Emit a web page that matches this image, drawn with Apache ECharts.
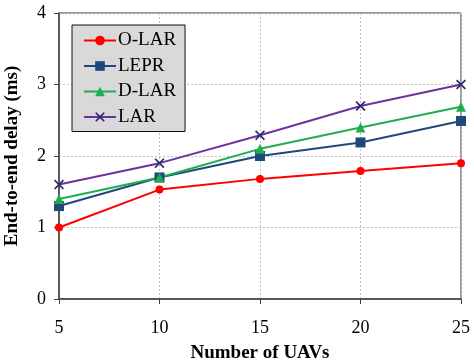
<!DOCTYPE html>
<html><head><meta charset="utf-8">
<script src="https://cdn.jsdelivr.net/npm/echarts@6/dist/echarts.min.js"></script>
<style>html,body{margin:0;padding:0;background:#fff}#c{width:474px;height:362px}</style>
</head><body><div id="c"></div>
<script>
const uavs = [5, 10, 15, 20, 25];
const oLar = [1.0, 1.53, 1.68, 1.79, 1.90];
const lepr = [1.3, 1.7, 2.0, 2.19, 2.49];
const dLar = [1.4, 1.7, 2.1, 2.4, 2.69];
const lar  = [1.6, 1.9, 2.29, 2.7, 3.0];
const seriesNames = ['O-LAR', 'LEPR', 'D-LAR', 'LAR'];
const serif = '"Liberation Serif", "DejaVu Serif", serif';
const xPath = 'path://M0,1.2L1.2,0L5,3.8L8.8,0L10,1.2L6.2,5L10,8.8L8.8,10L5,6.2L1.2,10L0,8.8L3.8,5Z';

function pairs(arr){ return uavs.map((u,i)=>[u, arr[i]]); }

const chart = echarts.init(document.getElementById('c'), null, {renderer:'canvas'});
const mk = (name, data, color, symbol, size, markerColor) => ({
  name, type:'line', data: pairs(data), symbol, symbolSize: size,
  lineStyle:{color, width:2}, itemStyle:{color: markerColor || color},
  emphasis:{disabled:true}, animation:false
});
chart.setOption({
  animation:false,
  grid:{left:59, right:13, top:13, bottom:63, show:true, borderColor:'#333', borderWidth:1,
        containLabel:false, outerBoundsMode:'none'},
  legend:{
    orient:'vertical', left:72, top:25,
    backgroundColor:'#d9d9d9', borderColor:'#111', borderWidth:1,
    padding:[6,9,5,11], itemGap:6.5, itemWidth:32, itemHeight:12,
    textStyle:{fontFamily:serif, fontSize:19, color:'#000', padding:[0,0,0,-3], lineHeight:19},
    data: seriesNames
  },
  xAxis:{
    type:'value', min:5, max:25, interval:5,
    name:'Number of UAVs', nameLocation:'middle', nameGap:45,
    nameTextStyle:{fontFamily:serif, fontSize:19, fontWeight:'bold', color:'#000'},
    axisLine:{show:true, onZero:false, lineStyle:{color:'#404040', width:1.5}},
    axisTick:{show:true, length:5, lineStyle:{color:'#404040'}},
    axisLabel:{fontFamily:serif, fontSize:18, color:'#000', margin:20},
    splitLine:{show:true, lineStyle:{color:'#c0c0c0', type:[2,2], width:1}}
  },
  yAxis:{
    type:'value', min:0, max:4, interval:1,
    name:'End-to-end delay (ms)', nameLocation:'middle', nameGap:37,
    nameTextStyle:{fontFamily:serif, fontSize:19, fontWeight:'bold', color:'#000'},
    axisLine:{show:true, lineStyle:{color:'#404040', width:1.5}},
    axisTick:{show:true, length:5, lineStyle:{color:'#404040'}},
    axisLabel:{fontFamily:serif, fontSize:18, color:'#000', margin:13},
    splitLine:{show:true, lineStyle:{color:'#c0c0c0', type:[2,2], width:1}}
  },
  series:[
    mk('O-LAR', oLar, '#ff0000', 'circle', 8),
    mk('LEPR', lepr, '#1f497d', 'rect', 10),
    mk('D-LAR', dLar, '#1fae4e', 'triangle', 10),
    mk('LAR', lar, '#7030a0', xPath, 10, '#2a2a6a')
  ]
});
</script></body></html>
